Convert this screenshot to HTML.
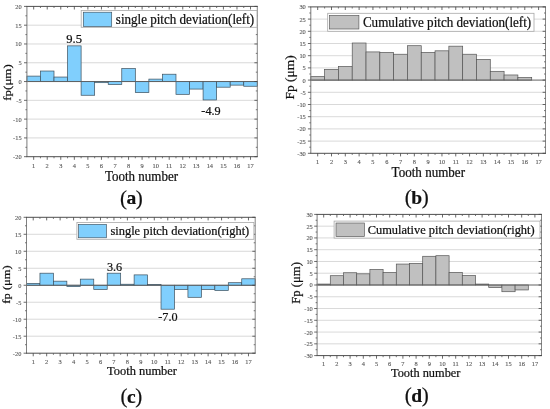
<!DOCTYPE html>
<html lang="en"><head><meta charset="utf-8"><title>Pitch deviation charts</title>
<style>
html,body{margin:0;padding:0;background:#fff;}
body{width:550px;height:409px;overflow:hidden;}
svg{display:block;}
svg text{font-family:'Liberation Serif','Times New Roman',serif;}
.tk{font-size:6.4px;fill:#555;stroke:#555;stroke-width:0.1px;}
.ttl{fill:#111;stroke:#111;stroke-width:0.22px;}
.cap{font-size:19.5px;fill:#111;stroke:#111;stroke-width:0.2px;}
</style></head><body>
<svg width="550" height="409" viewBox="0 0 550 409">
<rect width="550" height="409" fill="#fff"/>
<g id="chart-a">
<path d="M26.9 137.91H257.3M26.9 119.12H257.3M26.9 100.34H257.3M26.9 81.55H257.3M26.9 62.76H257.3M26.9 43.97H257.3M26.9 25.19H257.3" stroke="#cfcfcf" stroke-width="0.8" fill="none"/>
<rect x="26.9" y="76.1" width="13.55" height="5.45" fill="#80cffd" stroke="#3d4f5c" stroke-width="0.7"/>
<rect x="40.45" y="71.03" width="13.55" height="10.52" fill="#80cffd" stroke="#3d4f5c" stroke-width="0.7"/>
<rect x="54.01" y="77.04" width="13.55" height="4.51" fill="#80cffd" stroke="#3d4f5c" stroke-width="0.7"/>
<rect x="67.56" y="45.85" width="13.55" height="35.7" fill="#80cffd" stroke="#3d4f5c" stroke-width="0.7"/>
<rect x="81.11" y="81.55" width="13.55" height="13.71" fill="#80cffd" stroke="#3d4f5c" stroke-width="0.7"/>
<rect x="94.66" y="81.55" width="13.55" height="1.13" fill="#80cffd" stroke="#3d4f5c" stroke-width="0.7"/>
<rect x="108.22" y="81.55" width="13.55" height="3.01" fill="#80cffd" stroke="#3d4f5c" stroke-width="0.7"/>
<rect x="121.77" y="68.59" width="13.55" height="12.96" fill="#80cffd" stroke="#3d4f5c" stroke-width="0.7"/>
<rect x="135.32" y="81.55" width="13.55" height="11.08" fill="#80cffd" stroke="#3d4f5c" stroke-width="0.7"/>
<rect x="148.88" y="79.11" width="13.55" height="2.44" fill="#80cffd" stroke="#3d4f5c" stroke-width="0.7"/>
<rect x="162.43" y="74.22" width="13.55" height="7.33" fill="#80cffd" stroke="#3d4f5c" stroke-width="0.7"/>
<rect x="175.98" y="81.55" width="13.55" height="12.78" fill="#80cffd" stroke="#3d4f5c" stroke-width="0.7"/>
<rect x="189.54" y="81.55" width="13.55" height="7.52" fill="#80cffd" stroke="#3d4f5c" stroke-width="0.7"/>
<rect x="203.09" y="81.55" width="13.55" height="18.41" fill="#80cffd" stroke="#3d4f5c" stroke-width="0.7"/>
<rect x="216.64" y="81.55" width="13.55" height="5.64" fill="#80cffd" stroke="#3d4f5c" stroke-width="0.7"/>
<rect x="230.19" y="81.55" width="13.55" height="3.57" fill="#80cffd" stroke="#3d4f5c" stroke-width="0.7"/>
<rect x="243.75" y="81.55" width="13.55" height="4.7" fill="#80cffd" stroke="#3d4f5c" stroke-width="0.7"/>
<path d="M26.9 81.55H257.3" stroke="#5e5e5e" stroke-width="0.85" fill="none"/>
<path d="M26.9 6.4V156.7" stroke="#808080" stroke-width="1.05" fill="none"/>
<path d="M257.3 6.4V156.7" stroke="#777" stroke-width="0.9" fill="none"/>
<path d="M26.4 6.4H257.8" stroke="#444" stroke-width="0.95" fill="none"/>
<path d="M26.4 156.7H257.8" stroke="#444" stroke-width="0.95" fill="none"/>
<path d="M33.68 6.4v3.1M33.68 156.7v3.1M47.23 6.4v3.1M47.23 156.7v3.1M60.78 6.4v3.1M60.78 156.7v3.1M74.34 6.4v3.1M74.34 156.7v3.1M87.89 6.4v3.1M87.89 156.7v3.1M101.44 6.4v3.1M101.44 156.7v3.1M114.99 6.4v3.1M114.99 156.7v3.1M128.55 6.4v3.1M128.55 156.7v3.1M142.1 6.4v3.1M142.1 156.7v3.1M155.65 6.4v3.1M155.65 156.7v3.1M169.21 6.4v3.1M169.21 156.7v3.1M182.76 6.4v3.1M182.76 156.7v3.1M196.31 6.4v3.1M196.31 156.7v3.1M209.86 6.4v3.1M209.86 156.7v3.1M223.42 6.4v3.1M223.42 156.7v3.1M236.97 6.4v3.1M236.97 156.7v3.1M250.52 6.4v3.1M250.52 156.7v3.1M26.9 156.7h-2.9M257.3 156.7h-2.9M26.9 137.91h-2.9M257.3 137.91h-2.9M26.9 119.12h-2.9M257.3 119.12h-2.9M26.9 100.34h-2.9M257.3 100.34h-2.9M26.9 81.55h-2.9M257.3 81.55h-2.9M26.9 62.76h-2.9M257.3 62.76h-2.9M26.9 43.97h-2.9M257.3 43.97h-2.9M26.9 25.19h-2.9M257.3 25.19h-2.9M26.9 6.4h-2.9M257.3 6.4h-2.9" stroke="#444" stroke-width="0.8" fill="none"/>
<path d="M40.45 6.4v1.6M40.45 156.7v1.6M54.01 6.4v1.6M54.01 156.7v1.6M67.56 6.4v1.6M67.56 156.7v1.6M81.11 6.4v1.6M81.11 156.7v1.6M94.66 6.4v1.6M94.66 156.7v1.6M108.22 6.4v1.6M108.22 156.7v1.6M121.77 6.4v1.6M121.77 156.7v1.6M135.32 6.4v1.6M135.32 156.7v1.6M148.88 6.4v1.6M148.88 156.7v1.6M162.43 6.4v1.6M162.43 156.7v1.6M175.98 6.4v1.6M175.98 156.7v1.6M189.54 6.4v1.6M189.54 156.7v1.6M203.09 6.4v1.6M203.09 156.7v1.6M216.64 6.4v1.6M216.64 156.7v1.6M230.19 6.4v1.6M230.19 156.7v1.6M243.75 6.4v1.6M243.75 156.7v1.6M26.9 147.31h-1.5M257.3 147.31h-1.5M26.9 128.52h-1.5M257.3 128.52h-1.5M26.9 109.73h-1.5M257.3 109.73h-1.5M26.9 90.94h-1.5M257.3 90.94h-1.5M26.9 72.16h-1.5M257.3 72.16h-1.5M26.9 53.37h-1.5M257.3 53.37h-1.5M26.9 34.58h-1.5M257.3 34.58h-1.5M26.9 15.79h-1.5M257.3 15.79h-1.5" stroke="#555" stroke-width="0.8" fill="none"/>
<g class="tk" text-anchor="middle" transform="scale(1 1.1)"><text x="33.68" y="152.36">1</text><text x="47.23" y="152.36">2</text><text x="60.78" y="152.36">3</text><text x="74.34" y="152.36">4</text><text x="87.89" y="152.36">5</text><text x="101.44" y="152.36">6</text><text x="114.99" y="152.36">7</text><text x="128.55" y="152.36">8</text><text x="142.1" y="152.36">9</text><text x="155.65" y="152.36">10</text><text x="169.21" y="152.36">11</text><text x="182.76" y="152.36">12</text><text x="196.31" y="152.36">13</text><text x="209.86" y="152.36">14</text><text x="223.42" y="152.36">15</text><text x="236.97" y="152.36">16</text><text x="250.52" y="152.36">17</text></g>
<g class="tk" text-anchor="end" transform="scale(1 1.1)"><text x="21.6" y="8.05">20</text><text x="21.6" y="25.12">15</text><text x="21.6" y="42.2">10</text><text x="21.6" y="59.28">5</text><text x="21.6" y="76.36">0</text><text x="21.6" y="93.44">-5</text><text x="21.6" y="110.52">-10</text><text x="21.6" y="127.6">-15</text><text x="21.6" y="144.68">-20</text></g>
<rect x="81.2" y="10.5" width="175.8" height="16.8" fill="#fff" stroke="#a8a8a8" stroke-width="0.8"/>
<rect x="83.3" y="12.2" width="28.4" height="14.3" fill="#80cffd" stroke="#3d4f5c" stroke-width="0.65"/>
<text class="ttl" transform="translate(115.8 23.6) scale(1 1.05)" font-size="13.05">single pitch deviation(left)</text>
<text class="ttl" transform="translate(74.1 42.6) scale(1 1.05)" font-size="12.6" text-anchor="middle">9.5</text>
<text class="ttl" transform="translate(211 115) scale(1 1.05)" font-size="12.2" text-anchor="middle">-4.9</text>
<text class="ttl" transform="translate(141.5 180.6) scale(1 1.05)" font-size="13" text-anchor="middle">Tooth number</text>
<text class="ttl" transform="translate(10.6 82.5) rotate(-90) scale(1 0.86)" font-size="13" text-anchor="middle">fp(μm)</text>
<text class="cap" x="131" y="204.2" text-anchor="middle" letter-spacing="-0.5"><tspan font-size="21" dy="0.3">(</tspan><tspan font-weight="bold" dy="-0.3">a</tspan><tspan font-size="21" dy="0.3">)</tspan></text>
</g>
<g id="chart-b">
<path d="M310.8 141.1H545.5M310.8 128.9H545.5M310.8 116.7H545.5M310.8 104.5H545.5M310.8 92.3H545.5M310.8 80.1H545.5M310.8 67.9H545.5M310.8 55.7H545.5M310.8 43.5H545.5M310.8 31.3H545.5M310.8 19.1H545.5" stroke="#cfcfcf" stroke-width="0.8" fill="none"/>
<rect x="310.8" y="76.56" width="13.81" height="3.54" fill="#c0c0c0" stroke="#555" stroke-width="0.7"/>
<rect x="324.61" y="69.36" width="13.81" height="10.74" fill="#c0c0c0" stroke="#555" stroke-width="0.7"/>
<rect x="338.41" y="66.44" width="13.81" height="13.66" fill="#c0c0c0" stroke="#555" stroke-width="0.7"/>
<rect x="352.22" y="43.01" width="13.81" height="37.09" fill="#c0c0c0" stroke="#555" stroke-width="0.7"/>
<rect x="366.02" y="51.92" width="13.81" height="28.18" fill="#c0c0c0" stroke="#555" stroke-width="0.7"/>
<rect x="379.83" y="52.41" width="13.81" height="27.69" fill="#c0c0c0" stroke="#555" stroke-width="0.7"/>
<rect x="393.64" y="54.24" width="13.81" height="25.86" fill="#c0c0c0" stroke="#555" stroke-width="0.7"/>
<rect x="407.44" y="45.7" width="13.81" height="34.4" fill="#c0c0c0" stroke="#555" stroke-width="0.7"/>
<rect x="421.25" y="52.41" width="13.81" height="27.69" fill="#c0c0c0" stroke="#555" stroke-width="0.7"/>
<rect x="435.05" y="50.82" width="13.81" height="29.28" fill="#c0c0c0" stroke="#555" stroke-width="0.7"/>
<rect x="448.86" y="46.18" width="13.81" height="33.92" fill="#c0c0c0" stroke="#555" stroke-width="0.7"/>
<rect x="462.66" y="54.24" width="13.81" height="25.86" fill="#c0c0c0" stroke="#555" stroke-width="0.7"/>
<rect x="476.47" y="59.36" width="13.81" height="20.74" fill="#c0c0c0" stroke="#555" stroke-width="0.7"/>
<rect x="490.28" y="71.32" width="13.81" height="8.78" fill="#c0c0c0" stroke="#555" stroke-width="0.7"/>
<rect x="504.08" y="74.98" width="13.81" height="5.12" fill="#c0c0c0" stroke="#555" stroke-width="0.7"/>
<rect x="517.89" y="77.54" width="13.81" height="2.56" fill="#c0c0c0" stroke="#555" stroke-width="0.7"/>
<path d="M310.8 80.1H545.5" stroke="#5e5e5e" stroke-width="0.85" fill="none"/>
<path d="M310.8 6.9V153.3" stroke="#808080" stroke-width="1.05" fill="none"/>
<path d="M545.5 6.9V153.3" stroke="#777" stroke-width="0.9" fill="none"/>
<path d="M310.3 6.9H546" stroke="#444" stroke-width="0.95" fill="none"/>
<path d="M310.3 153.3H546" stroke="#444" stroke-width="0.95" fill="none"/>
<path d="M317.7 6.9v3.1M317.7 153.3v3.1M331.51 6.9v3.1M331.51 153.3v3.1M345.31 6.9v3.1M345.31 153.3v3.1M359.12 6.9v3.1M359.12 153.3v3.1M372.93 6.9v3.1M372.93 153.3v3.1M386.73 6.9v3.1M386.73 153.3v3.1M400.54 6.9v3.1M400.54 153.3v3.1M414.34 6.9v3.1M414.34 153.3v3.1M428.15 6.9v3.1M428.15 153.3v3.1M441.96 6.9v3.1M441.96 153.3v3.1M455.76 6.9v3.1M455.76 153.3v3.1M469.57 6.9v3.1M469.57 153.3v3.1M483.37 6.9v3.1M483.37 153.3v3.1M497.18 6.9v3.1M497.18 153.3v3.1M510.99 6.9v3.1M510.99 153.3v3.1M524.79 6.9v3.1M524.79 153.3v3.1M538.6 6.9v3.1M538.6 153.3v3.1M310.8 153.3h-2.9M545.5 153.3h-2.9M310.8 141.1h-2.9M545.5 141.1h-2.9M310.8 128.9h-2.9M545.5 128.9h-2.9M310.8 116.7h-2.9M545.5 116.7h-2.9M310.8 104.5h-2.9M545.5 104.5h-2.9M310.8 92.3h-2.9M545.5 92.3h-2.9M310.8 80.1h-2.9M545.5 80.1h-2.9M310.8 67.9h-2.9M545.5 67.9h-2.9M310.8 55.7h-2.9M545.5 55.7h-2.9M310.8 43.5h-2.9M545.5 43.5h-2.9M310.8 31.3h-2.9M545.5 31.3h-2.9M310.8 19.1h-2.9M545.5 19.1h-2.9M310.8 6.9h-2.9M545.5 6.9h-2.9" stroke="#444" stroke-width="0.8" fill="none"/>
<path d="M324.61 6.9v1.6M324.61 153.3v1.6M338.41 6.9v1.6M338.41 153.3v1.6M352.22 6.9v1.6M352.22 153.3v1.6M366.02 6.9v1.6M366.02 153.3v1.6M379.83 6.9v1.6M379.83 153.3v1.6M393.64 6.9v1.6M393.64 153.3v1.6M407.44 6.9v1.6M407.44 153.3v1.6M421.25 6.9v1.6M421.25 153.3v1.6M435.05 6.9v1.6M435.05 153.3v1.6M448.86 6.9v1.6M448.86 153.3v1.6M462.66 6.9v1.6M462.66 153.3v1.6M476.47 6.9v1.6M476.47 153.3v1.6M490.28 6.9v1.6M490.28 153.3v1.6M504.08 6.9v1.6M504.08 153.3v1.6M517.89 6.9v1.6M517.89 153.3v1.6M531.69 6.9v1.6M531.69 153.3v1.6M310.8 147.2h-1.5M545.5 147.2h-1.5M310.8 135h-1.5M545.5 135h-1.5M310.8 122.8h-1.5M545.5 122.8h-1.5M310.8 110.6h-1.5M545.5 110.6h-1.5M310.8 98.4h-1.5M545.5 98.4h-1.5M310.8 86.2h-1.5M545.5 86.2h-1.5M310.8 74h-1.5M545.5 74h-1.5M310.8 61.8h-1.5M545.5 61.8h-1.5M310.8 49.6h-1.5M545.5 49.6h-1.5M310.8 37.4h-1.5M545.5 37.4h-1.5M310.8 25.2h-1.5M545.5 25.2h-1.5M310.8 13h-1.5M545.5 13h-1.5" stroke="#555" stroke-width="0.8" fill="none"/>
<g class="tk" text-anchor="middle" transform="scale(1 1.1)"><text x="317.7" y="149.27">1</text><text x="331.51" y="149.27">2</text><text x="345.31" y="149.27">3</text><text x="359.12" y="149.27">4</text><text x="372.93" y="149.27">5</text><text x="386.73" y="149.27">6</text><text x="400.54" y="149.27">7</text><text x="414.34" y="149.27">8</text><text x="428.15" y="149.27">9</text><text x="441.96" y="149.27">10</text><text x="455.76" y="149.27">11</text><text x="469.57" y="149.27">12</text><text x="483.37" y="149.27">13</text><text x="497.18" y="149.27">14</text><text x="510.99" y="149.27">15</text><text x="524.79" y="149.27">16</text><text x="538.6" y="149.27">17</text></g>
<g class="tk" text-anchor="end" transform="scale(1 1.1)"><text x="305.8" y="8.5">30</text><text x="305.8" y="19.59">25</text><text x="305.8" y="30.68">20</text><text x="305.8" y="41.77">15</text><text x="305.8" y="52.86">10</text><text x="305.8" y="63.95">5</text><text x="305.8" y="75.05">0</text><text x="305.8" y="86.14">-5</text><text x="305.8" y="97.23">-10</text><text x="305.8" y="108.32">-15</text><text x="305.8" y="119.41">-20</text><text x="305.8" y="130.5">-25</text><text x="305.8" y="141.59">-30</text></g>
<rect x="327.7" y="13.3" width="206.3" height="18" fill="#fff" stroke="#a8a8a8" stroke-width="0.8"/>
<rect x="329.6" y="15.4" width="29.3" height="13.6" fill="#c0c0c0" stroke="#555" stroke-width="0.65"/>
<text class="ttl" transform="translate(362.9 27) scale(1 1.05)" font-size="13.07">Cumulative pitch deviation(left)</text>
<text class="ttl" transform="translate(428.3 177) scale(1 1.05)" font-size="13.05" text-anchor="middle">Tooth number</text>
<text class="ttl" transform="translate(294.3 77.4) rotate(-90) scale(1 0.89)" font-size="13.4" text-anchor="middle">Fp (μm)</text>
<text class="cap" x="416.5" y="203.9" text-anchor="middle" letter-spacing="-0.5"><tspan font-size="21" dy="0.3">(</tspan><tspan font-weight="bold" dy="-0.3">b</tspan><tspan font-size="21" dy="0.3">)</tspan></text>
</g>
<g id="chart-c">
<path d="M26.5 336.21H255.2M26.5 319.23H255.2M26.5 302.24H255.2M26.5 285.25H255.2M26.5 268.26H255.2M26.5 251.28H255.2M26.5 234.29H255.2" stroke="#cfcfcf" stroke-width="0.8" fill="none"/>
<rect x="26.5" y="283.38" width="13.45" height="1.87" fill="#80cffd" stroke="#3d4f5c" stroke-width="0.7"/>
<rect x="39.95" y="273.19" width="13.45" height="12.06" fill="#80cffd" stroke="#3d4f5c" stroke-width="0.7"/>
<rect x="53.41" y="281.17" width="13.45" height="4.08" fill="#80cffd" stroke="#3d4f5c" stroke-width="0.7"/>
<rect x="66.86" y="285.25" width="13.45" height="1.36" fill="#80cffd" stroke="#3d4f5c" stroke-width="0.7"/>
<rect x="80.31" y="279.13" width="13.45" height="6.12" fill="#80cffd" stroke="#3d4f5c" stroke-width="0.7"/>
<rect x="93.76" y="285.25" width="13.45" height="4.25" fill="#80cffd" stroke="#3d4f5c" stroke-width="0.7"/>
<rect x="107.22" y="273.19" width="13.45" height="12.06" fill="#80cffd" stroke="#3d4f5c" stroke-width="0.7"/>
<rect x="120.67" y="284.23" width="13.45" height="1.02" fill="#80cffd" stroke="#3d4f5c" stroke-width="0.7"/>
<rect x="134.12" y="274.89" width="13.45" height="10.36" fill="#80cffd" stroke="#3d4f5c" stroke-width="0.7"/>
<rect x="147.58" y="284.57" width="13.45" height="0.68" fill="#80cffd" stroke="#3d4f5c" stroke-width="0.7"/>
<rect x="161.03" y="285.25" width="13.45" height="23.95" fill="#80cffd" stroke="#3d4f5c" stroke-width="0.7"/>
<rect x="174.48" y="285.25" width="13.45" height="4.25" fill="#80cffd" stroke="#3d4f5c" stroke-width="0.7"/>
<rect x="187.94" y="285.25" width="13.45" height="12.06" fill="#80cffd" stroke="#3d4f5c" stroke-width="0.7"/>
<rect x="201.39" y="285.25" width="13.45" height="4.25" fill="#80cffd" stroke="#3d4f5c" stroke-width="0.7"/>
<rect x="214.84" y="285.25" width="13.45" height="5.27" fill="#80cffd" stroke="#3d4f5c" stroke-width="0.7"/>
<rect x="228.29" y="282.7" width="13.45" height="2.55" fill="#80cffd" stroke="#3d4f5c" stroke-width="0.7"/>
<rect x="241.75" y="278.79" width="13.45" height="6.46" fill="#80cffd" stroke="#3d4f5c" stroke-width="0.7"/>
<path d="M26.5 285.25H255.2" stroke="#5e5e5e" stroke-width="0.85" fill="none"/>
<path d="M26.5 217.3V353.2" stroke="#808080" stroke-width="1.05" fill="none"/>
<path d="M255.2 217.3V353.2" stroke="#777" stroke-width="0.9" fill="none"/>
<path d="M26 217.3H255.7" stroke="#444" stroke-width="0.95" fill="none"/>
<path d="M26 353.2H255.7" stroke="#444" stroke-width="0.95" fill="none"/>
<path d="M33.23 217.3v3.1M33.23 353.2v3.1M46.68 217.3v3.1M46.68 353.2v3.1M60.13 217.3v3.1M60.13 353.2v3.1M73.59 217.3v3.1M73.59 353.2v3.1M87.04 217.3v3.1M87.04 353.2v3.1M100.49 217.3v3.1M100.49 353.2v3.1M113.94 217.3v3.1M113.94 353.2v3.1M127.4 217.3v3.1M127.4 353.2v3.1M140.85 217.3v3.1M140.85 353.2v3.1M154.3 217.3v3.1M154.3 353.2v3.1M167.76 217.3v3.1M167.76 353.2v3.1M181.21 217.3v3.1M181.21 353.2v3.1M194.66 217.3v3.1M194.66 353.2v3.1M208.11 217.3v3.1M208.11 353.2v3.1M221.57 217.3v3.1M221.57 353.2v3.1M235.02 217.3v3.1M235.02 353.2v3.1M248.47 217.3v3.1M248.47 353.2v3.1M26.5 353.2h-2.9M255.2 353.2h-2.9M26.5 336.21h-2.9M255.2 336.21h-2.9M26.5 319.23h-2.9M255.2 319.23h-2.9M26.5 302.24h-2.9M255.2 302.24h-2.9M26.5 285.25h-2.9M255.2 285.25h-2.9M26.5 268.26h-2.9M255.2 268.26h-2.9M26.5 251.28h-2.9M255.2 251.28h-2.9M26.5 234.29h-2.9M255.2 234.29h-2.9M26.5 217.3h-2.9M255.2 217.3h-2.9" stroke="#444" stroke-width="0.8" fill="none"/>
<path d="M39.95 217.3v1.6M39.95 353.2v1.6M53.41 217.3v1.6M53.41 353.2v1.6M66.86 217.3v1.6M66.86 353.2v1.6M80.31 217.3v1.6M80.31 353.2v1.6M93.76 217.3v1.6M93.76 353.2v1.6M107.22 217.3v1.6M107.22 353.2v1.6M120.67 217.3v1.6M120.67 353.2v1.6M134.12 217.3v1.6M134.12 353.2v1.6M147.58 217.3v1.6M147.58 353.2v1.6M161.03 217.3v1.6M161.03 353.2v1.6M174.48 217.3v1.6M174.48 353.2v1.6M187.94 217.3v1.6M187.94 353.2v1.6M201.39 217.3v1.6M201.39 353.2v1.6M214.84 217.3v1.6M214.84 353.2v1.6M228.29 217.3v1.6M228.29 353.2v1.6M241.75 217.3v1.6M241.75 353.2v1.6M26.5 344.71h-1.5M255.2 344.71h-1.5M26.5 327.72h-1.5M255.2 327.72h-1.5M26.5 310.73h-1.5M255.2 310.73h-1.5M26.5 293.74h-1.5M255.2 293.74h-1.5M26.5 276.76h-1.5M255.2 276.76h-1.5M26.5 259.77h-1.5M255.2 259.77h-1.5M26.5 242.78h-1.5M255.2 242.78h-1.5M26.5 225.79h-1.5M255.2 225.79h-1.5" stroke="#555" stroke-width="0.8" fill="none"/>
<g class="tk" text-anchor="middle" transform="scale(1 1.1)"><text x="33.23" y="331">1</text><text x="46.68" y="331">2</text><text x="60.13" y="331">3</text><text x="73.59" y="331">4</text><text x="87.04" y="331">5</text><text x="100.49" y="331">6</text><text x="113.94" y="331">7</text><text x="127.4" y="331">8</text><text x="140.85" y="331">9</text><text x="154.3" y="331">10</text><text x="167.76" y="331">11</text><text x="181.21" y="331">12</text><text x="194.66" y="331">13</text><text x="208.11" y="331">14</text><text x="221.57" y="331">15</text><text x="235.02" y="331">16</text><text x="248.47" y="331">17</text></g>
<g class="tk" text-anchor="end" transform="scale(1 1.1)"><text x="21.4" y="199.77">20</text><text x="21.4" y="215.22">15</text><text x="21.4" y="230.66">10</text><text x="21.4" y="246.1">5</text><text x="21.4" y="261.55">0</text><text x="21.4" y="276.99">-5</text><text x="21.4" y="292.43">-10</text><text x="21.4" y="307.87">-15</text><text x="21.4" y="323.32">-20</text></g>
<rect x="76.9" y="222.5" width="177" height="16.8" fill="#fff" stroke="#a8a8a8" stroke-width="0.8"/>
<rect x="78.6" y="224.4" width="27.8" height="13.4" fill="#80cffd" stroke="#3d4f5c" stroke-width="0.65"/>
<text class="ttl" transform="translate(110.4 234.6) scale(1 1.05)" font-size="12.45">single pitch deviation(right)</text>
<text class="ttl" transform="translate(114.5 271) scale(1 1.05)" font-size="12.2" text-anchor="middle">3.6</text>
<text class="ttl" transform="translate(167.9 320.7) scale(1 1.05)" font-size="12.2" text-anchor="middle">-7.0</text>
<text class="ttl" transform="translate(142 375.4) scale(1 1.05)" font-size="12.45" text-anchor="middle">Tooth number</text>
<text class="ttl" transform="translate(10.2 284.5) rotate(-90) scale(1 0.89)" font-size="12.5" text-anchor="middle">fp (μm)</text>
<text class="cap" x="131.2" y="402.8" text-anchor="middle" letter-spacing="-0.5"><tspan font-size="21" dy="0.3">(</tspan><tspan font-weight="bold" dy="-0.3">c</tspan><tspan font-size="21" dy="0.3">)</tspan></text>
</g>
<g id="chart-d">
<path d="M317.1 343.83H541.5M317.1 332.07H541.5M317.1 320.3H541.5M317.1 308.53H541.5M317.1 296.77H541.5M317.1 285H541.5M317.1 273.23H541.5M317.1 261.47H541.5M317.1 249.7H541.5M317.1 237.93H541.5M317.1 226.17H541.5" stroke="#cfcfcf" stroke-width="0.8" fill="none"/>
<rect x="317.1" y="284.06" width="13.2" height="0.94" fill="#c0c0c0" stroke="#555" stroke-width="0.7"/>
<rect x="330.3" y="275.7" width="13.2" height="9.3" fill="#c0c0c0" stroke="#555" stroke-width="0.7"/>
<rect x="343.5" y="272.76" width="13.2" height="12.24" fill="#c0c0c0" stroke="#555" stroke-width="0.7"/>
<rect x="356.7" y="273.82" width="13.2" height="11.18" fill="#c0c0c0" stroke="#555" stroke-width="0.7"/>
<rect x="369.9" y="269.47" width="13.2" height="15.53" fill="#c0c0c0" stroke="#555" stroke-width="0.7"/>
<rect x="383.1" y="272.53" width="13.2" height="12.47" fill="#c0c0c0" stroke="#555" stroke-width="0.7"/>
<rect x="396.3" y="264.06" width="13.2" height="20.94" fill="#c0c0c0" stroke="#555" stroke-width="0.7"/>
<rect x="409.5" y="263.35" width="13.2" height="21.65" fill="#c0c0c0" stroke="#555" stroke-width="0.7"/>
<rect x="422.7" y="256.29" width="13.2" height="28.71" fill="#c0c0c0" stroke="#555" stroke-width="0.7"/>
<rect x="435.9" y="255.7" width="13.2" height="29.3" fill="#c0c0c0" stroke="#555" stroke-width="0.7"/>
<rect x="449.1" y="272.41" width="13.2" height="12.59" fill="#c0c0c0" stroke="#555" stroke-width="0.7"/>
<rect x="462.3" y="275.47" width="13.2" height="9.53" fill="#c0c0c0" stroke="#555" stroke-width="0.7"/>
<rect x="475.5" y="284.06" width="13.2" height="0.94" fill="#c0c0c0" stroke="#555" stroke-width="0.7"/>
<rect x="488.7" y="285" width="13.2" height="2.59" fill="#c0c0c0" stroke="#555" stroke-width="0.7"/>
<rect x="501.9" y="285" width="13.2" height="6.71" fill="#c0c0c0" stroke="#555" stroke-width="0.7"/>
<rect x="515.1" y="285" width="13.2" height="4.94" fill="#c0c0c0" stroke="#555" stroke-width="0.7"/>
<path d="M317.1 285H541.5" stroke="#5e5e5e" stroke-width="0.85" fill="none"/>
<path d="M317.1 214.4V355.6" stroke="#808080" stroke-width="1.05" fill="none"/>
<path d="M541.5 214.4V355.6" stroke="#777" stroke-width="0.9" fill="none"/>
<path d="M316.6 214.4H542" stroke="#444" stroke-width="0.95" fill="none"/>
<path d="M316.6 355.6H542" stroke="#444" stroke-width="0.95" fill="none"/>
<path d="M323.7 214.4v3.1M323.7 355.6v3.1M336.9 214.4v3.1M336.9 355.6v3.1M350.1 214.4v3.1M350.1 355.6v3.1M363.3 214.4v3.1M363.3 355.6v3.1M376.5 214.4v3.1M376.5 355.6v3.1M389.7 214.4v3.1M389.7 355.6v3.1M402.9 214.4v3.1M402.9 355.6v3.1M416.1 214.4v3.1M416.1 355.6v3.1M429.3 214.4v3.1M429.3 355.6v3.1M442.5 214.4v3.1M442.5 355.6v3.1M455.7 214.4v3.1M455.7 355.6v3.1M468.9 214.4v3.1M468.9 355.6v3.1M482.1 214.4v3.1M482.1 355.6v3.1M495.3 214.4v3.1M495.3 355.6v3.1M508.5 214.4v3.1M508.5 355.6v3.1M521.7 214.4v3.1M521.7 355.6v3.1M534.9 214.4v3.1M534.9 355.6v3.1M317.1 355.6h-2.9M541.5 355.6h-2.9M317.1 343.83h-2.9M541.5 343.83h-2.9M317.1 332.07h-2.9M541.5 332.07h-2.9M317.1 320.3h-2.9M541.5 320.3h-2.9M317.1 308.53h-2.9M541.5 308.53h-2.9M317.1 296.77h-2.9M541.5 296.77h-2.9M317.1 285h-2.9M541.5 285h-2.9M317.1 273.23h-2.9M541.5 273.23h-2.9M317.1 261.47h-2.9M541.5 261.47h-2.9M317.1 249.7h-2.9M541.5 249.7h-2.9M317.1 237.93h-2.9M541.5 237.93h-2.9M317.1 226.17h-2.9M541.5 226.17h-2.9M317.1 214.4h-2.9M541.5 214.4h-2.9" stroke="#444" stroke-width="0.8" fill="none"/>
<path d="M330.3 214.4v1.6M330.3 355.6v1.6M343.5 214.4v1.6M343.5 355.6v1.6M356.7 214.4v1.6M356.7 355.6v1.6M369.9 214.4v1.6M369.9 355.6v1.6M383.1 214.4v1.6M383.1 355.6v1.6M396.3 214.4v1.6M396.3 355.6v1.6M409.5 214.4v1.6M409.5 355.6v1.6M422.7 214.4v1.6M422.7 355.6v1.6M435.9 214.4v1.6M435.9 355.6v1.6M449.1 214.4v1.6M449.1 355.6v1.6M462.3 214.4v1.6M462.3 355.6v1.6M475.5 214.4v1.6M475.5 355.6v1.6M488.7 214.4v1.6M488.7 355.6v1.6M501.9 214.4v1.6M501.9 355.6v1.6M515.1 214.4v1.6M515.1 355.6v1.6M528.3 214.4v1.6M528.3 355.6v1.6M317.1 349.72h-1.5M541.5 349.72h-1.5M317.1 337.95h-1.5M541.5 337.95h-1.5M317.1 326.18h-1.5M541.5 326.18h-1.5M317.1 314.42h-1.5M541.5 314.42h-1.5M317.1 302.65h-1.5M541.5 302.65h-1.5M317.1 290.88h-1.5M541.5 290.88h-1.5M317.1 279.12h-1.5M541.5 279.12h-1.5M317.1 267.35h-1.5M541.5 267.35h-1.5M317.1 255.58h-1.5M541.5 255.58h-1.5M317.1 243.82h-1.5M541.5 243.82h-1.5M317.1 232.05h-1.5M541.5 232.05h-1.5M317.1 220.28h-1.5M541.5 220.28h-1.5" stroke="#555" stroke-width="0.8" fill="none"/>
<g class="tk" text-anchor="middle" transform="scale(1 1.1)"><text x="323.7" y="333.18">1</text><text x="336.9" y="333.18">2</text><text x="350.1" y="333.18">3</text><text x="363.3" y="333.18">4</text><text x="376.5" y="333.18">5</text><text x="389.7" y="333.18">6</text><text x="402.9" y="333.18">7</text><text x="416.1" y="333.18">8</text><text x="429.3" y="333.18">9</text><text x="442.5" y="333.18">10</text><text x="455.7" y="333.18">11</text><text x="468.9" y="333.18">12</text><text x="482.1" y="333.18">13</text><text x="495.3" y="333.18">14</text><text x="508.5" y="333.18">15</text><text x="521.7" y="333.18">16</text><text x="534.9" y="333.18">17</text></g>
<g class="tk" text-anchor="end" transform="scale(1 1.1)"><text x="312.8" y="197.14">30</text><text x="312.8" y="207.83">25</text><text x="312.8" y="218.53">20</text><text x="312.8" y="229.23">15</text><text x="312.8" y="239.92">10</text><text x="312.8" y="250.62">5</text><text x="312.8" y="261.32">0</text><text x="312.8" y="272.02">-5</text><text x="312.8" y="282.71">-10</text><text x="312.8" y="293.41">-15</text><text x="312.8" y="304.11">-20</text><text x="312.8" y="314.8">-25</text><text x="312.8" y="325.5">-30</text></g>
<rect x="334.1" y="221.1" width="205.9" height="17" fill="#fff" stroke="#a8a8a8" stroke-width="0.8"/>
<rect x="336" y="223" width="28.4" height="13.6" fill="#c0c0c0" stroke="#555" stroke-width="0.65"/>
<text class="ttl" transform="translate(367.7 234) scale(1 1.05)" font-size="12.43">Cumulative pitch deviation(right)</text>
<text class="ttl" transform="translate(425.7 376.6) scale(1 1.05)" font-size="12.35" text-anchor="middle">Tooth number</text>
<text class="ttl" transform="translate(300.1 282.9) rotate(-90) scale(1 1.0)" font-size="12.7" text-anchor="middle">Fp (μm)</text>
<text class="cap" x="416.5" y="401.6" text-anchor="middle" letter-spacing="-0.5"><tspan font-size="21" dy="0.3">(</tspan><tspan font-weight="bold" dy="-0.3">d</tspan><tspan font-size="21" dy="0.3">)</tspan></text>
</g>
</svg>
</body></html>
